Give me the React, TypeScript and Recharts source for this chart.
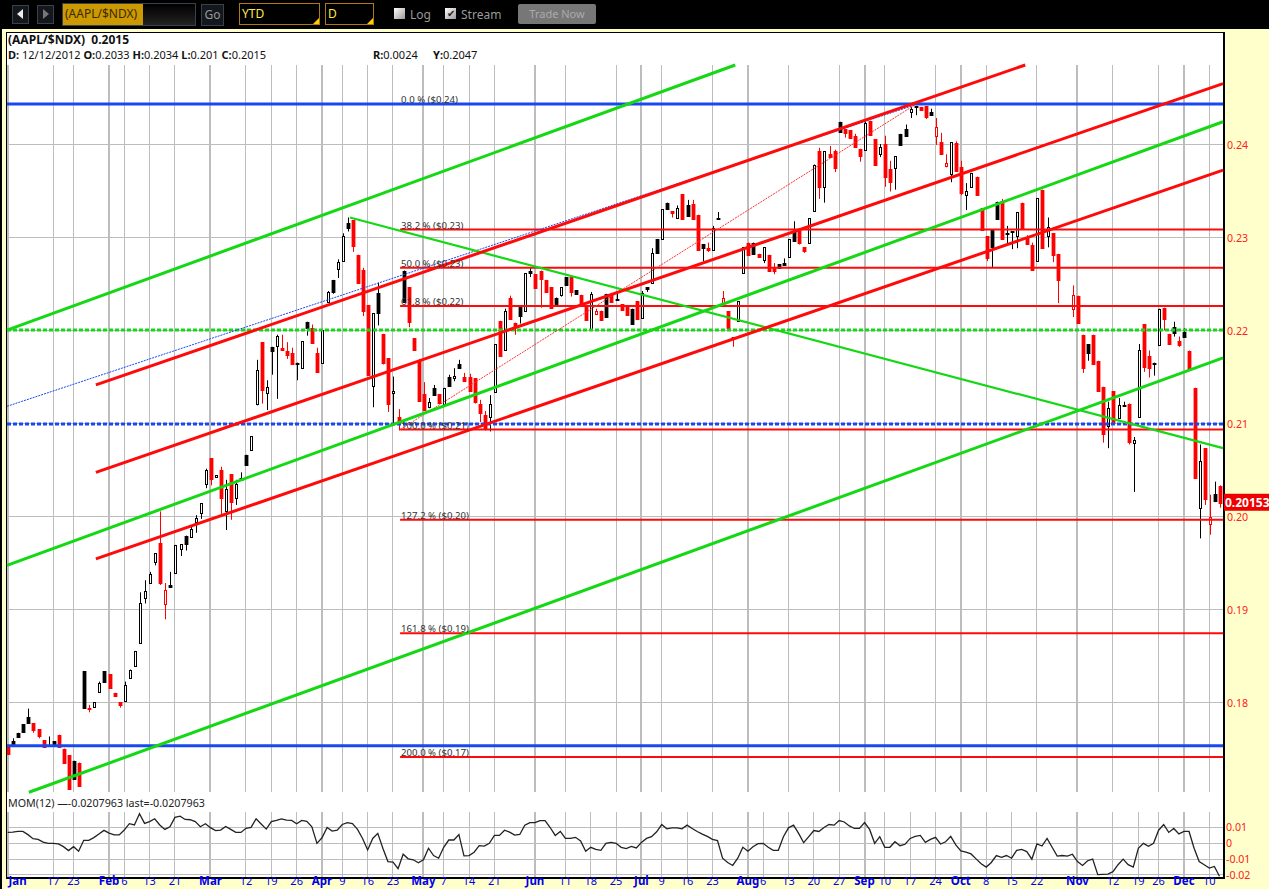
import { Bar, CartesianGrid, ComposedChart, Line, LineChart, ReferenceDot, ReferenceLine, XAxis, YAxis } from 'recharts';

const FONT = '"Noto Sans", Tahoma, sans-serif';

const opens = [
  0.1754, 0.1759, 0.1768, 0.1777, 0.1785, 0.1778, 0.1772, 0.176, 0.1755, 0.1759,
  0.1766, 0.1751, 0.1744, 0.1738, 0.1736, 0.1834, 0.1795, 0.1796, 0.1812, 0.1834,
  0.1831, 0.1811, 0.1801, 0.1802, 0.1827, 0.184, 0.1865, 0.1913, 0.1929, 0.1952,
  0.1972, 0.1906, 0.1927, 0.194, 0.1966, 0.198, 0.1979, 0.1995, 0.2004, 0.2035,
  0.2063, 0.2043, 0.2051, 0.2006, 0.2046, 0.202, 0.2042, 0.2067, 0.2072, 0.2121,
  0.2188, 0.2133, 0.2183, 0.2184, 0.2182, 0.2179, 0.2176, 0.2166, 0.216, 0.221,
  0.2203, 0.2176, 0.2166, 0.2231, 0.2255, 0.2267, 0.2275, 0.2316, 0.2319, 0.2282,
  0.2266, 0.2228, 0.2141, 0.2241, 0.2197, 0.2171, 0.2134, 0.2107, 0.2265, 0.2247,
  0.2192, 0.2169, 0.2132, 0.2118, 0.2139, 0.2132, 0.2122, 0.2151, 0.2149, 0.2164,
  0.215, 0.215, 0.2149, 0.2121, 0.211, 0.2108, 0.2134, 0.2211, 0.218, 0.2236,
  0.2209, 0.2226, 0.2222, 0.2264, 0.2261, 0.2265, 0.2255, 0.2247, 0.2236, 0.2239,
  0.2258, 0.2258, 0.2244, 0.2239, 0.2226, 0.2201, 0.2218, 0.2222, 0.224, 0.2239,
  0.2234, 0.2229, 0.2228, 0.2224, 0.2232, 0.2214, 0.2247, 0.2252, 0.2299, 0.2299,
  0.2338, 0.2329, 0.2322, 0.2347, 0.2335, 0.2337, 0.2325, 0.2293, 0.2289, 0.2287,
  0.2322, 0.223, 0.2221, 0.2193, 0.2211, 0.2262, 0.2295, 0.2295, 0.2283, 0.2276,
  0.2282, 0.2268, 0.2272, 0.2273, 0.228, 0.2307, 0.2307, 0.229, 0.2295, 0.2329,
  0.2393, 0.2355, 0.239, 0.2393, 0.2425, 0.2417, 0.2416, 0.241, 0.2396, 0.2395,
  0.2426, 0.2406, 0.239, 0.2401, 0.2374, 0.2375, 0.2412, 0.2417, 0.2436, 0.2442,
  0.2441, 0.2442, 0.2436, 0.241, 0.2403, 0.2377, 0.2369, 0.2402, 0.2376, 0.2346,
  0.2355, 0.2366, 0.2332, 0.2302, 0.2309, 0.2339, 0.234, 0.2305, 0.2307, 0.2302,
  0.2338, 0.2301, 0.2292, 0.2275, 0.2352, 0.2302, 0.2305, 0.2283, null, null,
  0.2224, 0.2238, 0.2196, 0.2186, 0.2196, 0.2168, 0.214, 0.2098, 0.2135, 0.2106,
  0.212, 0.2122, 0.208, 0.2108, 0.2207, 0.2173, 0.2166, 0.2185, 0.2225, 0.2197,
  0.2204, 0.2189, 0.2199, 0.2179, 0.2139, 0.201, 0.2074, 0.1993, 0.2025, 0.2033,
];

const closes = [
  0.1745, 0.1754, 0.1763, 0.1769, 0.1778, 0.1771, 0.1765, 0.1753, 0.1754, 0.1754,
  0.1753, 0.1736, 0.1708, 0.1718, 0.1711, 0.1795, 0.1794, 0.1801, 0.1822, 0.1823,
  0.1816, 0.1807, 0.1798, 0.1819, 0.1836, 0.1856, 0.1907, 0.192, 0.1939, 0.1961,
  0.1929, 0.1921, 0.1925, 0.197, 0.1971, 0.1971, 0.1987, 0.1999, 0.2015, 0.205,
  0.2041, 0.2045, 0.202, 0.203, 0.2016, 0.2036, 0.204, 0.2056, 0.2087, 0.2158,
  0.2137, 0.214, 0.2179, 0.2195, 0.218, 0.2174, 0.2165, 0.2164, 0.2189, 0.2203,
  0.2187, 0.2156, 0.2201, 0.2242, 0.2242, 0.2274, 0.2302, 0.2311, 0.2291, 0.2252,
  0.2222, 0.2153, 0.2219, 0.2219, 0.2166, 0.2122, 0.2136, 0.2102, 0.2231, 0.221,
  0.218, 0.2125, 0.2115, 0.2124, 0.2131, 0.2123, 0.2139, 0.2141, 0.2152, 0.216,
  0.2146, 0.2136, 0.2124, 0.2112, 0.2095, 0.2122, 0.2186, 0.2173, 0.2221, 0.2213,
  0.2204, 0.2216, 0.2262, 0.2262, 0.2246, 0.2256, 0.2242, 0.2225, 0.2227, 0.2247,
  0.2249, 0.2242, 0.224, 0.2227, 0.2212, 0.224, 0.2222, 0.2212, 0.2215, 0.2231,
  0.2233, 0.2223, 0.2217, 0.2208, 0.2213, 0.2241, 0.2245, 0.2284, 0.2284, 0.2331,
  0.2331, 0.2327, 0.2332, 0.232, 0.2324, 0.232, 0.2287, 0.2289, 0.2287, 0.2311,
  0.2321, 0.2236, 0.2203, 0.2192, 0.2232, 0.229, 0.2282, 0.2283, 0.228, 0.229,
  0.2265, 0.2264, 0.2268, 0.2271, 0.2299, 0.2297, 0.2295, 0.2286, 0.2321, 0.2379,
  0.2355, 0.2393, 0.2387, 0.2375, 0.2414, 0.2413, 0.2408, 0.2398, 0.2388, 0.2424,
  0.2411, 0.2379, 0.2398, 0.2366, 0.236, 0.2388, 0.24, 0.241, 0.2439, 0.2441,
  0.2438, 0.243, 0.2432, 0.2419, 0.239, 0.2381, 0.2403, 0.2372, 0.2348, 0.235,
  0.237, 0.2346, 0.2309, 0.2279, 0.229, 0.232, 0.2299, 0.2304, 0.2306, 0.2328,
  0.2311, 0.2294, 0.2266, 0.2343, 0.2289, 0.2312, 0.2282, 0.2255, null, null,
  0.2239, 0.2209, 0.216, 0.2176, 0.2164, 0.2135, 0.2089, 0.2117, 0.2101, 0.212,
  0.2119, 0.2081, 0.2083, 0.218, 0.2161, 0.216, 0.2165, 0.2224, 0.2213, 0.2186,
  0.2198, 0.2185, 0.2194, 0.2159, 0.2042, 0.206, 0.2019, 0.2, 0.2017, 0.2015,
];

const highs = [
  0.1754, 0.1762, 0.1768, 0.1777, 0.1794, 0.1778, 0.1772, 0.176, 0.1764, 0.1759,
  0.1766, 0.1751, 0.1744, 0.1738, 0.1736, 0.1834, 0.1798, 0.1801, 0.1823, 0.1834,
  0.1831, 0.1811, 0.1801, 0.1823, 0.1836, 0.1856, 0.1919, 0.1932, 0.1941, 0.1961,
  0.2006, 0.1929, 0.1941, 0.197, 0.1971, 0.198, 0.199, 0.2002, 0.2015, 0.2052,
  0.2063, 0.2045, 0.2054, 0.204, 0.2046, 0.204, 0.2048, 0.2067, 0.2087, 0.2169,
  0.2188, 0.2147, 0.2183, 0.2196, 0.2196, 0.2188, 0.2182, 0.2166, 0.2189, 0.221,
  0.2207, 0.2182, 0.2201, 0.2243, 0.2255, 0.2277, 0.2305, 0.2322, 0.2319, 0.2282,
  0.2268, 0.2228, 0.2219, 0.2252, 0.2197, 0.2171, 0.2151, 0.2116, 0.2265, 0.2247,
  0.2192, 0.217, 0.2145, 0.2128, 0.2142, 0.2132, 0.2139, 0.2153, 0.216, 0.2169,
  0.2155, 0.2154, 0.2149, 0.2126, 0.2114, 0.2131, 0.2186, 0.2211, 0.2224, 0.2238,
  0.2209, 0.2226, 0.2262, 0.2268, 0.2261, 0.2265, 0.2255, 0.2247, 0.2236, 0.2247,
  0.2258, 0.2258, 0.2244, 0.2239, 0.2226, 0.2242, 0.2224, 0.2222, 0.224, 0.2241,
  0.224, 0.2229, 0.2228, 0.2224, 0.2232, 0.2243, 0.2247, 0.2289, 0.2299, 0.2331,
  0.2338, 0.2329, 0.2335, 0.2347, 0.2341, 0.2341, 0.2325, 0.2293, 0.2295, 0.2313,
  0.2328, 0.2243, 0.2221, 0.2193, 0.2232, 0.229, 0.2295, 0.2295, 0.2283, 0.229,
  0.2282, 0.2273, 0.2272, 0.2278, 0.2299, 0.2318, 0.2307, 0.229, 0.2321, 0.2379,
  0.2397, 0.2393, 0.2399, 0.2395, 0.2425, 0.2417, 0.2416, 0.2412, 0.2396, 0.2427,
  0.2426, 0.2406, 0.2401, 0.241, 0.2383, 0.2388, 0.2412, 0.2422, 0.2441, 0.2442,
  0.2441, 0.2442, 0.2439, 0.2429, 0.2413, 0.239, 0.2403, 0.2404, 0.2383, 0.2359,
  0.237, 0.2366, 0.2332, 0.2302, 0.2309, 0.2339, 0.2342, 0.2313, 0.2307, 0.2328,
  0.2338, 0.2303, 0.2295, 0.2343, 0.2352, 0.2322, 0.2305, 0.2283, null, null,
  0.2249, 0.2238, 0.2196, 0.2186, 0.2196, 0.2168, 0.214, 0.2124, 0.2135, 0.2128,
  0.2124, 0.2122, 0.2086, 0.2186, 0.2207, 0.2179, 0.2166, 0.2224, 0.2225, 0.2197,
  0.221, 0.2194, 0.2203, 0.2179, 0.2139, 0.2078, 0.2074, 0.2024, 0.2038, 0.2034,
];

const lows = [
  0.1745, 0.1754, 0.1763, 0.1769, 0.1778, 0.1768, 0.1762, 0.1753, 0.1754, 0.1754,
  0.1753, 0.1736, 0.1708, 0.1718, 0.1711, 0.1795, 0.179, 0.1795, 0.1812, 0.1823,
  0.1816, 0.1807, 0.1795, 0.1802, 0.1827, 0.184, 0.1865, 0.1907, 0.1929, 0.1948,
  0.1927, 0.189, 0.1925, 0.194, 0.1958, 0.1964, 0.1979, 0.1983, 0.1998, 0.2031,
  0.2034, 0.2042, 0.2002, 0.1986, 0.1997, 0.2013, 0.204, 0.2056, 0.2072, 0.212,
  0.2122, 0.2115, 0.2153, 0.2127, 0.218, 0.217, 0.2165, 0.2147, 0.216, 0.2195,
  0.2187, 0.2156, 0.2165, 0.223, 0.224, 0.2257, 0.2275, 0.2307, 0.2285, 0.2252,
  0.2216, 0.2153, 0.2118, 0.2206, 0.2164, 0.2113, 0.2101, 0.2093, 0.2231, 0.2204,
  0.218, 0.2125, 0.2115, 0.2117, 0.2131, 0.2122, 0.2122, 0.2141, 0.2146, 0.216,
  0.2146, 0.2136, 0.2122, 0.2102, 0.2093, 0.2092, 0.2134, 0.2173, 0.218, 0.2213,
  0.2196, 0.2208, 0.2222, 0.2258, 0.2246, 0.2225, 0.2242, 0.2225, 0.2227, 0.2237,
  0.2249, 0.2237, 0.224, 0.2227, 0.2212, 0.2201, 0.2218, 0.2212, 0.2215, 0.2231,
  0.2233, 0.2223, 0.2217, 0.2208, 0.2213, 0.2214, 0.2242, 0.2252, 0.2284, 0.2299,
  0.233, 0.2322, 0.2322, 0.232, 0.2324, 0.232, 0.2287, 0.2275, 0.2285, 0.2287,
  0.2321, 0.223, 0.2201, 0.2183, 0.2211, 0.2262, 0.2282, 0.2283, 0.228, 0.2273,
  0.2265, 0.2261, 0.2268, 0.2271, 0.228, 0.2297, 0.2293, 0.2284, 0.2295, 0.2329,
  0.2342, 0.2338, 0.2387, 0.2371, 0.2414, 0.2408, 0.2408, 0.2398, 0.2382, 0.2395,
  0.2411, 0.2379, 0.2387, 0.2355, 0.235, 0.2352, 0.24, 0.241, 0.2429, 0.2432,
  0.2438, 0.2428, 0.2432, 0.24, 0.239, 0.2376, 0.236, 0.2372, 0.2346, 0.233,
  0.2355, 0.2346, 0.2309, 0.2275, 0.2268, 0.232, 0.2299, 0.2294, 0.2288, 0.2289,
  0.2311, 0.2294, 0.2266, 0.2275, 0.2289, 0.229, 0.2274, 0.223, null, null,
  0.2215, 0.2209, 0.2155, 0.2168, 0.2164, 0.2135, 0.208, 0.2074, 0.2101, 0.2106,
  0.2119, 0.2078, 0.2027, 0.2107, 0.2156, 0.215, 0.2152, 0.2185, 0.2201, 0.2186,
  0.2194, 0.2183, 0.2194, 0.2159, 0.2042, 0.1977, 0.2013, 0.1981, 0.2016, 0.201,
];

// r = lower than the day before, k = higher, - = no session
const candleColors = [
  'rkkkkrrrkk', 'rrrkrkrkkk', 'rrrkkkkkkk', 'rrkkkkkkkk', 'rkrkrkkkkk',
  'rkkkrrrkkk', 'rrkkkkkkrr', 'rrkkrrkrkr', 'rrrkkrkkkk', 'rrrrrkkrkr',
  'rkkkrrrrkk', 'krkrrkrrkr', 'krrkrkkkkk', 'krkrkrrkrk', 'krrrkkrkrk',
  'rrkkkkrrkk', 'rkrrkrrrrk', 'rrkrrkkkkk', 'rrkrrrkrrk', 'krrrkkrkkk',
  'rrrkrkrr--', 'rrrkrrrkrk', 'krkkrrkkrr', 'krkrrkrrkr',
].join('');

const momentum = [
  0.0069, 0.0071, 0.0075, 0.0075, 0.0055, 0.0029, 0.0025, 0.0008, 0, 0,
  -0.0004, -0.0021, -0.0046, -0.0021, -0.005, 0.0019, 0.0019, 0.0036, 0.0059, 0.0082,
  0.0065, 0.0053, 0.0053, 0.0084, 0.0124, 0.0116, 0.0187, 0.0126, 0.0137, 0.0155,
  0.0116, 0.0088, 0.0105, 0.0164, 0.0172, 0.0151, 0.0149, 0.0137, 0.0105, 0.0124,
  0.0099, 0.008, 0.0084, 0.0107, 0.0088, 0.0069, 0.0069, 0.0095, 0.0101, 0.0155,
  0.0122, 0.009, 0.0137, 0.0145, 0.0155, 0.0147, 0.0145, 0.0124, 0.0145, 0.0139,
  0.0105, 0, 0.0035, 0.01, 0.0077, 0.0083, 0.0119, 0.0131, 0.0125, 0.0088,
  0.0031, -0.0042, 0.0031, 0.0063, -0.0031, -0.0115, -0.0119, -0.016, -0.0069, -0.0098,
  -0.0104, -0.0123, -0.0104, -0.0031, -0.0077, -0.0094, -0.0025, 0.0021, 0.0021, 0.0056,
  -0.0079, -0.0077, -0.0056, -0.0015, -0.0017, 0, 0.005, 0.005, 0.0083, 0.0071,
  0.0052, 0.0056, 0.0115, 0.0131, 0.0131, 0.0144, 0.0144, 0.01, 0.005, 0.0075,
  0.0031, 0.0031, 0.0038, 0.0015, -0.005, -0.0025, -0.0038, -0.0044, 0, 0.0006,
  0, -0.0025, -0.0033, -0.0019, -0.0029, 0.0006, 0.0031, 0.0042, 0.0073, 0.0119,
  0.0092, 0.0098, 0.0098, 0.0092, 0.0115, 0.0094, 0.0075, 0.0058, 0.0044, 0.0025,
  0.0017, -0.0094, -0.0121, -0.014, -0.0094, -0.0025, -0.005, -0.0021, -0.0002, 0,
  -0.0025, -0.0044, -0.0044, 0.0042, 0.0098, 0.0115, 0.0063, 0.0004, 0.0042, 0.0081,
  0.0075, 0.01, 0.0119, 0.0115, 0.0144, 0.0135, 0.011, 0.0094, 0.0094, 0.0131,
  0.0088, 0, 0.0042, -0.0025, -0.0025, 0.001, -0.0015, -0.0006, 0.0031, 0.0044,
  0.005, 0.0006, 0.0025, 0.0038, -0.0004, 0.001, 0.0044, -0.001, -0.0048, -0.0056,
  -0.0067, -0.0098, -0.0129, -0.015, -0.0121, -0.0077, -0.0088, -0.0077, -0.0094, -0.0044,
  -0.0038, -0.0052, -0.01, -0.0004, -0.0017, 0.0031, -0.0025, -0.0081, -0.0077, -0.0081,
  -0.0069, -0.0115, -0.014, -0.011, -0.01, -0.0198, -0.0196, -0.0194, -0.0179, -0.0135,
  -0.01, -0.0135, -0.015, -0.0031, 0, -0.0019, 0, 0.0083, 0.0119, 0.0069,
  0.0094, 0.006, 0.0075, 0.0075, -0.0031, -0.0115, -0.0135, -0.0156, -0.0146, -0.0208,
];

const dayTicks = [0, 9, 13, 20, 23, 28, 33, 40, 47, 52, 57, 62, 66, 71, 76, 82, 86, 91, 96, 104, 110, 115, 120, 125, 129, 134, 139, 146, 149, 154, 159, 164, 169, 173, 178, 183, 188, 193, 198, 203, 211, 218, 223, 227, 232, 237];
const dayLabels = ['Jan', '17', '23', 'Feb', '6', '13', '21', 'Mar', '12', '19', '26', 'Apr', '9', '16', '23', 'May', '7', '14', '21', 'Jun', '11', '18', '25', 'Jul', '9', '16', '23', 'Aug', '6', '13', '20', '27', 'Sep', '10', '17', '24', 'Oct', '8', '15', '22', 'Nov', '12', '19', '26', 'Dec', '10'];
const monthNames = ['Jan', 'Feb', 'Mar', 'Apr', 'May', 'Jun', 'Jul', 'Aug', 'Sep', 'Oct', 'Nov', 'Dec'];

const monthDays = dayTicks.filter((_, i) => monthNames.includes(dayLabels[i]));
const weekDays = dayTicks.filter((_, i) => !monthNames.includes(dayLabels[i]));

const priceTicks = [0.18, 0.19, 0.2, 0.21, 0.22, 0.23, 0.24];
const momTicks = [-0.02, -0.01, 0, 0.01];

const fibPrices = [0.2444, 0.2309, 0.2268, 0.2227, 0.2094, 0.1997, 0.1875, 0.1742];
const fibLabels = ['0.0 %  ($0.24)', '38.2 %  ($0.23)', '50.0 %  ($0.23)', '61.8 %  ($0.22)', '100.0 %  ($0.21)', '127.2 %  ($0.20)', '161.8 %  ($0.19)', '200.0 %  ($0.17)'];
const FIB_START = 77.4;

const GREEN = '#14d814';
const RED = '#ff0a0a';
const BLUE = '#1a48f0';

// channel lines, [day, price] to [day, price]
const channelLines = [
  { from: [-0.13, 0.2201], to: [143.5, 0.2486], color: GREEN, width: 3 },
  { from: [-0.13, 0.1948], to: [239.7, 0.2425], color: GREEN, width: 3 },
  { from: [4.2, 0.1704], to: [239.7, 0.2171], color: GREEN, width: 3 },
  { from: [67.5, 0.2322], to: [239.7, 0.2074], color: GREEN, width: 2.2 },
  { from: [17.4, 0.2142], to: [200.7, 0.2486], color: RED, width: 3 },
  { from: [17.4, 0.2048], to: [239.7, 0.2466], color: RED, width: 3 },
  { from: [17.4, 0.1955], to: [239.7, 0.2373], color: RED, width: 3 },
];
const dottedLines = [
  { from: [-0.13, 0.2119], to: [178.9, 0.2443], color: BLUE },
  { from: [77.4, 0.2094], to: [178.9, 0.2443], color: '#ff3030' },
];

const LAST_PRICE = 0.20153;
const X_DOMAIN = [-0.13, 239.7];

const candles = closes
  .map((close, i) => ({
    day: i,
    open: opens[i],
    close,
    high: highs[i],
    low: lows[i],
    range: [lows[i], highs[i]],
    color: candleColors[i] === 'r' ? '#ff0000' : '#000000',
  }))
  .filter((c) => c.close !== null);

const momData = momentum.map((mom, i) => ({ day: i, mom }));

function Candle(props: any) {
  const { x, y, width, height, payload } = props;
  const { open, close, high, low, color } = payload;
  const top = Math.min(y, y + height);
  const h = Math.abs(height);
  const priceY = (p: number) => (high === low ? top : top + ((high - p) / (high - low)) * h);
  const cx = Math.round(x + width / 2);
  const bodyTop = Math.round(priceY(Math.max(open, close)));
  const bodyBottom = Math.round(priceY(Math.min(open, close)));
  const hollow = close > open;
  const bodyH = Math.max(bodyBottom - bodyTop, 1);
  return (
    <g>
      <rect x={cx} y={top} width={1} height={Math.max(h, 1)} fill={color} />
      {hollow ? (
        <rect x={cx - 0.5} y={bodyTop + 0.5} width={2} height={Math.max(bodyH, 2)} fill="#fff" stroke={color} strokeWidth={1} />
      ) : (
        <rect x={cx - 1.4} y={bodyTop} width={3.8} height={bodyH + 1} fill={color} />
      )}
    </g>
  );
}

function PriceTag(props: any) {
  const { cx, cy } = props;
  return (
    <g>
      <rect x={cx + 1} y={cy - 9} width={46} height={17} fill="#ee0000" />
      <text x={cx + 2} y={cy + 4} fill="#fff" fontSize={12} fontWeight={700}>
        {LAST_PRICE.toFixed(5)}
      </text>
    </g>
  );
}

function DayTick(props: any) {
  const { x, y, payload } = props;
  const label = dayLabels[dayTicks.indexOf(payload.value)];
  const isMonth = monthNames.includes(label);
  return (
    <text
      x={label === 'Jan' ? x + 10 : x}
      y={y + 7}
      textAnchor="middle"
      fill="#0000ee"
      fontSize={isMonth ? 11.5 : 11}
      fontWeight={isMonth ? 700 : 400}
    >
      {label}
    </text>
  );
}

function Toolbar() {
  const box = (left: number, width: number): React.CSSProperties => ({
    position: 'absolute',
    left,
    width,
    top: 3,
    height: 22,
    boxSizing: 'border-box',
    border: '1px solid #b07a10',
    color: '#ffe94a',
    fontSize: 12,
    lineHeight: '20px',
    paddingLeft: 2,
  });
  const corner = (left: number): React.CSSProperties => ({
    position: 'absolute',
    left,
    top: 18,
    width: 0,
    height: 0,
    borderLeft: '6px solid transparent',
    borderBottom: '6px solid #ffcc00',
  });
  const check: React.CSSProperties = {
    position: 'absolute',
    top: 8,
    width: 11,
    height: 11,
    background: 'linear-gradient(135deg,#fff,#999)',
    color: '#222',
    fontSize: 10,
    lineHeight: '11px',
    textAlign: 'center',
  };
  const nav: React.CSSProperties = {
    position: 'absolute',
    top: 5,
    width: 15,
    height: 17,
    border: '1px solid #39424c',
    background: '#14181c',
  };
  return (
    <div style={{ position: 'absolute', left: 0, top: 0, width: 1269, height: 29, background: '#000' }}>
      <div style={{ ...nav, left: 12 }}>
        <div style={{ marginTop: 3, marginLeft: 4, width: 0, height: 0, borderTop: '5px solid transparent', borderBottom: '5px solid transparent', borderRight: '6px solid #eee' }} />
      </div>
      <div style={{ ...nav, left: 37 }}>
        <div style={{ marginTop: 3, marginLeft: 5, width: 0, height: 0, borderTop: '5px solid transparent', borderBottom: '5px solid transparent', borderLeft: '6px solid #777' }} />
      </div>
      <div style={{ position: 'absolute', left: 62, top: 3, width: 134, height: 23, boxSizing: 'border-box', border: '1px solid #39424c', background: 'linear-gradient(#000,#222)' }} />
      <div style={{ position: 'absolute', left: 63, top: 4, width: 80, height: 21, background: '#cc9900', color: '#3a2a00', fontSize: 12, lineHeight: '20px', paddingLeft: 2, boxSizing: 'border-box' }}>
        (AAPL/$NDX)
      </div>
      <div style={{ position: 'absolute', left: 201, top: 4, width: 23, height: 22, boxSizing: 'border-box', border: '1px solid #39424c', background: '#14181c', color: '#999', fontSize: 12, lineHeight: '20px', textAlign: 'center' }}>
        Go
      </div>
      <div style={box(239, 81)}>YTD</div>
      <div style={corner(313)} />
      <div style={box(325, 49)}>D</div>
      <div style={corner(367)} />
      <div style={{ ...check, left: 394 }} />
      <div style={{ position: 'absolute', left: 410, top: 6, color: '#999', fontSize: 12 }}>Log</div>
      <div style={{ ...check, left: 445 }}>✔</div>
      <div style={{ position: 'absolute', left: 461, top: 6, color: '#999', fontSize: 12 }}>Stream</div>
      <div style={{ position: 'absolute', left: 518, top: 4, width: 78, height: 20, background: '#777', borderRadius: 2, color: '#aaa', fontSize: 11, lineHeight: '20px', textAlign: 'center' }}>
        Trade Now
      </div>
    </div>
  );
}

export default function App() {
  return (
    <div style={{ position: 'fixed', left: 0, top: 0, width: 1269, height: 889, overflow: 'hidden', background: '#ffffcc', fontFamily: FONT }}>
      <Toolbar />
      <div style={{ position: 'absolute', left: 0, top: 29, width: 2, height: 860, background: '#000' }} />
      <div style={{ position: 'absolute', left: 6, top: 32, width: 1219, height: 847, boxSizing: 'border-box', borderLeft: '1px solid #000', borderTop: '1px solid #000', borderRight: '2px solid #000', background: '#fff' }} />

      <div style={{ position: 'absolute', left: 8, top: 31, fontSize: 12, fontWeight: 700, color: '#111', whiteSpace: 'pre' }}>(AAPL/$NDX)  0.2015</div>
      <div style={{ position: 'absolute', left: 8, top: 47, fontSize: 11, color: '#111', whiteSpace: 'pre' }}>
        <b>D:</b> 12/12/2012 <b>O:</b>0.2033 <b>H:</b>0.2034 <b>L:</b>0.201 <b>C:</b>0.2015
      </div>
      <div style={{ position: 'absolute', left: 373, top: 47, fontSize: 11, color: '#111' }}>
        <b>R:</b>0.0024
      </div>
      <div style={{ position: 'absolute', left: 433, top: 47, fontSize: 11, color: '#111' }}>
        <b>Y:</b>0.2047
      </div>

      <div style={{ position: 'absolute', left: 0, top: 0 }}>
        <ComposedChart width={1269} height={800} data={candles} margin={{ top: 65, right: 0, bottom: 8, left: 7 }}>
          <CartesianGrid horizontalValues={priceTicks} verticalValues={weekDays} stroke="#bdbdbd" strokeWidth={1} shapeRendering="crispEdges" />
          <CartesianGrid horizontal={false} verticalValues={monthDays} stroke="#bdbdbd" strokeWidth={2} shapeRendering="crispEdges" />
          <XAxis dataKey="day" type="number" domain={X_DOMAIN} allowDataOverflow hide ticks={dayTicks} height={0} />
          <YAxis
            orientation="right"
            width={46}
            domain={[0.17043, 0.2486]}
            allowDataOverflow
            ticks={priceTicks}
            interval={0}
            tickFormatter={(v: number) => v.toFixed(2)}
            tick={{ fill: '#ff2020', fontSize: 10.6 }}
            tickLine={false}
            tickSize={0}
            tickMargin={4}
            axisLine={false}
          />
          <Bar dataKey="range" barSize={4} shape={Candle} isAnimationActive={false} />
          {fibPrices.map((p, i) => (
            <ReferenceLine
              key={fibLabels[i]}
              segment={[{ x: FIB_START, y: p }, { x: X_DOMAIN[1], y: p }]}
              stroke={RED}
              strokeWidth={2}
              ifOverflow="visible"
              label={{ value: fibLabels[i], position: 'insideBottomLeft', offset: 1, fontSize: 9.6, fill: '#333', style: { whiteSpace: 'pre' } }}
            />
          ))}
          <ReferenceLine y={0.2444} stroke={BLUE} strokeWidth={3} ifOverflow="visible" />
          <ReferenceLine y={0.1754} stroke={BLUE} strokeWidth={3} ifOverflow="visible" />
          <ReferenceLine y={0.2201} stroke={GREEN} strokeWidth={3} strokeDasharray="4 2" ifOverflow="visible" />
          <ReferenceLine y={0.21} stroke={BLUE} strokeWidth={3} strokeDasharray="4 2" ifOverflow="visible" />
          {dottedLines.map((l) => (
            <ReferenceLine
              key={l.color}
              segment={[{ x: l.from[0], y: l.from[1] }, { x: l.to[0], y: l.to[1] }]}
              stroke={l.color}
              strokeWidth={1}
              strokeDasharray="2 1"
              ifOverflow="visible"
            />
          ))}
          {channelLines.map((l) => (
            <ReferenceLine
              key={`${l.from[0]}-${l.from[1]}`}
              segment={[{ x: l.from[0], y: l.from[1] }, { x: l.to[0], y: l.to[1] }]}
              stroke={l.color}
              strokeWidth={l.width}
              ifOverflow="visible"
            />
          ))}
          <ReferenceDot x={X_DOMAIN[1]} y={LAST_PRICE} ifOverflow="visible" shape={PriceTag} />
        </ComposedChart>
      </div>

      <div style={{ position: 'absolute', left: 8, top: 796, fontSize: 10.7, color: '#222', whiteSpace: 'pre' }}>MOM(12) —-0.0207963 last=-0.0207963</div>

      <div style={{ position: 'absolute', left: 0, top: 812 }}>
        <LineChart width={1269} height={77} data={momData} margin={{ top: 0, right: 0, bottom: 0, left: 7 }}>
          <CartesianGrid horizontalValues={momTicks} verticalValues={weekDays} stroke="#bdbdbd" strokeWidth={1} shapeRendering="crispEdges" />
          <CartesianGrid horizontal={false} verticalValues={monthDays} stroke="#bdbdbd" strokeWidth={2} shapeRendering="crispEdges" />
          <XAxis
            dataKey="day"
            type="number"
            domain={X_DOMAIN}
            allowDataOverflow
            ticks={dayTicks}
            interval={0}
            height={11}
            tick={DayTick}
            tickLine={false}
            tickSize={0}
            tickMargin={0}
            axisLine={{ stroke: '#000', strokeWidth: 2 }}
          />
          <YAxis
            orientation="right"
            width={46}
            domain={[-0.0219, 0.0198]}
            allowDataOverflow
            ticks={momTicks}
            interval={0}
            tickFormatter={(v: number) => String(v)}
            tick={{ fill: '#ff2020', fontSize: 10.6 }}
            tickLine={false}
            tickSize={0}
            tickMargin={3}
            axisLine={false}
          />
          <Line dataKey="mom" stroke="#222" strokeWidth={1.3} dot={false} isAnimationActive={false} />
        </LineChart>
      </div>
    </div>
  );
}
